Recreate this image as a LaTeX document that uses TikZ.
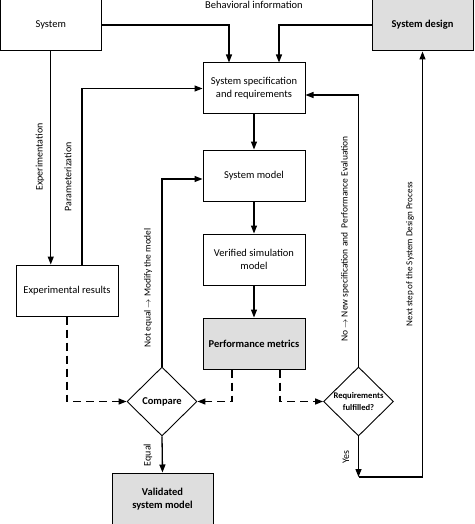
\documentclass[tikz,border=0pt]{standalone}
\usepackage{fontspec}
\setmainfont{Carlito}
\usetikzlibrary{shapes.geometric,arrows.meta,calc}
\begin{document}
\begin{tikzpicture}[x=1pt,y=-1pt,
  box/.style={draw,line width=1pt,minimum width=102pt,minimum height=51pt,inner sep=1pt,align=center,font=\fontsize{10.5}{13}\selectfont},
  gbox/.style={box,fill=black!13,font=\fontsize{10.5}{13}\selectfont\bfseries},
  dia/.style={draw,diamond,line width=0.9pt,minimum width=70pt,minimum height=69pt,inner sep=0pt},
  arr/.style={line width=1.3pt,-{Triangle[length=8pt,width=6pt]}},
  darr/.style={arr,dash pattern=on 8pt off 5pt},
  lbl/.style={rotate=90,font=\fontsize{10}{12}\selectfont},
]
\useasboundingbox (0,0) rectangle (474,524);
% boxes
\node[box] (sys) at (50.75,25) [minimum height=52pt,minimum width=101.5pt] {System};
\node[gbox] (sysd) at (422.5,25) [minimum height=52pt,minimum width=101pt] {System design};
\node[box] (spec) at (254,88.5) {System specification\\and requirements};
\node[box] (model) at (254,175.5) {System model};
\node[box] (ver) at (254,259.5) {Verified simulation\\model};
\node[gbox] (perf) at (254,343.5) {Performance metrics};
\node[box] (exp) at (67,290.5) {Experimental results};
\node[gbox] (val) at (162.5,499.5) [minimum height=53pt,minimum width=101pt] {Validated\\system model};
\node[dia] (cmp) at (162,401.5) [label={[font=\fontsize{10.5}{12}\selectfont\bfseries]center:Compare}] {};
\node[dia] (req) at (358.5,401.5) [label={[align=center,font=\fontsize{8.6}{11.5}\selectfont\bfseries]center:Requirements\\fulfilled?}] {};
\node[font=\fontsize{10.5}{12}\selectfont] (beh) at (254,5) {Behavioral information};
\coordinate (yc) at (358.5,477);
% connectors
\draw[arr] (sys.east) -| ($(spec.north)+(-25,0)$);
\draw[arr] (sysd.west) -| ($(spec.north)+(25,0)$);
\draw[arr] (spec) -- (model);
\draw[arr] (model) -- (ver);
\draw[arr] (ver) -- (perf);
\draw[arr] (sys.south) -- (sys.south |- exp.north);
\draw[arr] ($(exp.north)+(15,0)$) |- (spec.west);
\draw[darr] (exp.south) |- (cmp.west);
\draw[darr] ($(perf.south)+(-22,0)$) |- (cmp.east);
\draw[darr] ($(perf.south)+(26,0)$) |- (req.west);
\draw[arr] (cmp.north) |- ($(model.west)+(0,3.5)$);
\draw[arr] (req.north) |- ($(spec.east)+(0,6.5)$);
\draw[arr] (cmp.south) -- (val.north);
\draw[arr] (req.south) -- (yc);
\draw[arr] (yc) -| (sysd.south);
% labels
\node[lbl] (l1) at (40,157) {Experimentation};
\node[lbl] (l2) at (68,177) {Parameterization};
\node[lbl,font=\fontsize{9.4}{12}\selectfont] (l3) at (148,288) {Not equal $\rightarrow$ Modify the model};
\node[lbl] (l4) at (148,455) {Equal};
\node[lbl,font=\fontsize{9.5}{12}\selectfont] (l5) at (345,239) {No $\rightarrow$ New specification and\ \ Performance Evaluation};
\node[lbl] (l6) at (346,457) {Yes};
\node[lbl,font=\fontsize{9.1}{12}\selectfont] (l7) at (410,254) {Next step of the System Design Process};
\end{tikzpicture}
\end{document}
